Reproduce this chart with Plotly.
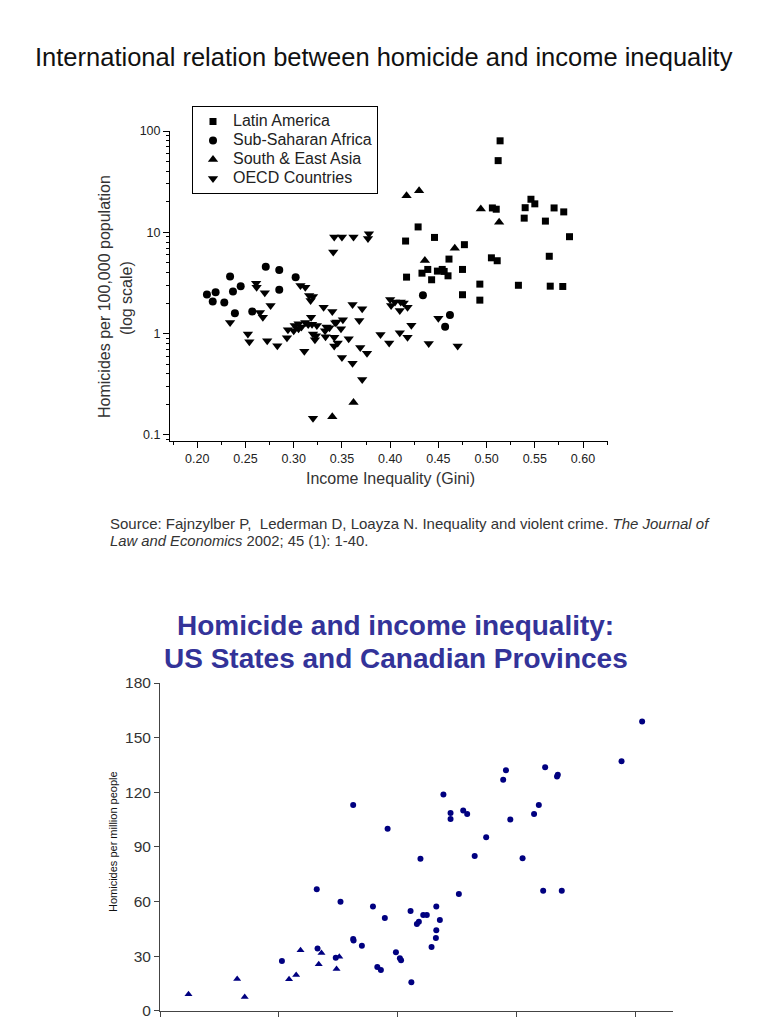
import plotly.graph_objects as go

W, H = 768, 1024
FONT = "Liberation Sans, Arial, sans-serif"

# ---------------- Top chart data (Gini vs homicides per 100,000, log) -------------
la_x = [0.514, 0.512, 0.506, 0.510, 0.540, 0.546, 0.550, 0.570, 0.580, 0.539, 0.561, 0.586,
        0.565, 0.505, 0.511, 0.533, 0.566, 0.579, 0.493, 0.493, 0.475, 0.475, 0.477, 0.461,
        0.460, 0.456, 0.449, 0.454, 0.443, 0.439, 0.433, 0.446, 0.429, 0.416, 0.417]
la_y = [80, 51, 17.4, 16.9, 17.5, 21.2, 19.1, 17.4, 15.9, 13.8, 12.9, 9.05,
        5.8, 5.6, 5.24, 3.0, 2.94, 2.92, 3.08, 2.14, 2.42, 4.3, 7.55, 5.44,
        3.72, 4.11, 4.14, 4.3, 3.4, 4.3, 3.95, 8.9, 11.3, 8.2, 3.61]

af_x = [0.210, 0.219, 0.216, 0.228, 0.234, 0.237, 0.245, 0.239, 0.257, 0.271, 0.285, 0.285,
        0.302, 0.434, 0.462, 0.457]
af_y = [2.43, 2.56, 2.07, 2.03, 3.66, 2.61, 2.94, 1.59, 1.65, 4.57, 4.24, 2.71,
        3.61, 2.39, 1.53, 1.17]

as_x = [0.417, 0.430, 0.494, 0.513, 0.467, 0.436, 0.362, 0.340]
as_y = [22.9, 25.7, 17.0, 12.6, 6.96, 5.28, 0.209, 0.151]

oecd_x = [0.342, 0.350, 0.362, 0.377, 0.378, 0.341,
          0.261, 0.2615, 0.270, 0.276, 0.265, 0.268, 0.234, 0.2525, 0.254, 0.2725, 0.283, 0.293, 0.294,
          0.307, 0.312, 0.316, 0.3175, 0.320, 0.318, 0.331, 0.340, 0.361, 0.371, 0.368, 0.351, 0.343,
          0.301, 0.305, 0.308, 0.312, 0.315, 0.319, 0.324, 0.305, 0.300, 0.320, 0.334, 0.3325, 0.337, 0.3445, 0.349,
          0.322, 0.323, 0.333, 0.342, 0.342, 0.3456, 0.357, 0.350, 0.361, 0.369, 0.376, 0.371, 0.311, 0.320,
          0.400, 0.401, 0.405, 0.411, 0.414, 0.410, 0.418, 0.422, 0.410, 0.418, 0.399, 0.390, 0.450, 0.440, 0.470]
oecd_y = [9.0, 9.0, 9.0, 8.7, 9.7, 6.38,
          3.15, 2.87, 2.53, 1.89, 1.62, 1.45, 1.29, 0.99, 0.83, 0.85, 0.76, 0.91, 1.09,
          2.98, 2.87, 2.38, 2.12, 2.32, 1.45, 1.82, 1.65, 1.94, 1.76, 1.35, 1.37, 1.28,
          1.2, 1.25, 1.16, 1.29, 1.23, 1.24, 1.2, 1.12, 1.07, 0.99, 1.16, 1.07, 1.14, 1.3, 1.12,
          0.87, 0.95, 0.93, 0.92, 0.755, 0.81, 0.89, 0.58, 0.51, 0.73, 0.64, 0.353, 0.67, 0.146,
          2.17, 1.89, 2.05, 2.05, 2.0, 1.69, 1.82, 1.21, 1.02, 0.92, 0.81, 0.98, 1.42, 0.80, 0.755]

top_names = ["Latin America", "Sub-Saharan Africa", "South & East Asia", "OECD Countries"]
top_xticks = [0.20, 0.25, 0.30, 0.35, 0.40, 0.45, 0.50, 0.55, 0.60]
top_yticks = [0.1, 1, 10, 100]
top_yticklabels = ["0.1", "1", "10", "100"]

# ---------------- Bottom chart data (US states / Canadian provinces) -------------
us_x = [0.4718, 0.4666, 0.4374, 0.4367, 0.4473, 0.4503, 0.4505, 0.4216, 0.4234, 0.4234,
        0.4266, 0.4276, 0.4075, 0.3988, 0.4457, 0.4445, 0.4385, 0.4324, 0.4295, 0.4158,
        0.4416, 0.4468, 0.4515, 0.4255, 0.4198, 0.4133, 0.4165, 0.4174, 0.4207, 0.4154,
        0.4149, 0.4198, 0.4197, 0.4186, 0.4068, 0.4096, 0.4106, 0.4109, 0.4058, 0.4135,
        0.3896, 0.3956, 0.4038, 0.3988, 0.3989, 0.4010, 0.3898, 0.3808, 0.3944, 0.4049]
us_y = [158.8, 137, 132.1, 126.8, 133.7, 128.6, 129.6, 118.7, 108.6, 105.3,
        109.9, 108.1, 100, 113, 113, 108.1, 105, 95.3, 85, 83.5,
        83.7, 65.9, 65.9, 64.1, 57.2, 54.8, 52.6, 52.6, 49.8, 48.9,
        47.6, 44.2, 40, 35, 50.9, 32.1, 28.8, 27.7, 22.4, 15.6,
        66.7, 59.9, 57.2, 39.4, 38.5, 35.7, 34.1, 27.3, 29.1, 24.0]

ca_x = [0.3572, 0.3695, 0.3714, 0.3826, 0.3844, 0.3855, 0.3901, 0.3908, 0.3946, 0.3953]
ca_y = [9.0, 17.4, 7.5, 17.3, 19.6, 33.2, 25.5, 31.7, 22.9, 29.7]

bot_xticks = [0.35, 0.38, 0.41, 0.44, 0.47]
bot_yticks = [0, 30, 60, 90, 120, 150, 180]


def px_x(p):
    return p / W


def px_y(p):
    return 1 - p / H


def big(name):
    return f'<span style="font-size:16px">{name}</span>'


fig = go.Figure()

mk = dict(color="black", line=dict(width=0))
fig.add_trace(go.Scatter(x=la_x, y=la_y, mode="markers", name=big(top_names[0]),
                         marker=dict(symbol="square", size=7, **mk), xaxis="x", yaxis="y"))
fig.add_trace(go.Scatter(x=af_x, y=af_y, mode="markers", name=big(top_names[1]),
                         marker=dict(symbol="circle", size=8, **mk), xaxis="x", yaxis="y"))
fig.add_trace(go.Scatter(x=as_x, y=as_y, mode="markers", name=big(top_names[2]),
                         marker=dict(symbol="triangle-up", size=9, **mk), xaxis="x", yaxis="y"))
fig.add_trace(go.Scatter(x=oecd_x, y=oecd_y, mode="markers", name=big(top_names[3]),
                         marker=dict(symbol="triangle-down", size=9, **mk), xaxis="x", yaxis="y"))

navy = "#000080"
fig.add_trace(go.Scatter(x=us_x, y=us_y, mode="markers", showlegend=False,
                         marker=dict(symbol="circle", size=6, color=navy, line=dict(width=0)),
                         xaxis="x2", yaxis="y2"))
fig.add_trace(go.Scatter(x=ca_x, y=ca_y, mode="markers", showlegend=False,
                         marker=dict(symbol="triangle-up", size=7, color=navy, line=dict(width=0)),
                         xaxis="x2", yaxis="y2"))

tickfont_top = dict(family=FONT, size=12.5, color="#222")
tickfont_bot = dict(family=FONT, size=15.5, color="#333")

fig.update_layout(
    width=W, height=H, margin=dict(l=0, r=0, t=0, b=0, autoexpand=False),
    paper_bgcolor="white", plot_bgcolor="white",
    font=dict(family=FONT),
    showlegend=True,
    legend=dict(x=px_x(192), y=px_y(106), xanchor="left", yanchor="top",
                bordercolor="black", borderwidth=1, bgcolor="white",
                font=dict(family=FONT, size=11.7, color="#222"), tracegroupgap=0),
    xaxis=dict(domain=[px_x(170), px_x(608)], range=[0.1717, 0.6259], automargin=False,
               tickvals=top_xticks, ticktext=[f"{v:.2f}" for v in top_xticks],
               ticks="outside", ticklen=6, tickcolor="black", showline=True, linecolor="black",
               linewidth=1, showgrid=False, zeroline=False, tickfont=tickfont_top,
               minor=dict(tick0=0.225, dtick=0.05, ticks="outside", ticklen=3, tickcolor="black", showgrid=False),
               anchor="y"),
    yaxis=dict(domain=[px_y(441), px_y(131)], type="log", range=[-1.06, 2.0], automargin=False,
               tickvals=top_yticks, ticktext=top_yticklabels,
               ticks="outside", ticklen=6, tickcolor="black", showline=True, linecolor="black",
               linewidth=1, showgrid=False, zeroline=False, tickfont=tickfont_top,
               minor=dict(dtick="D1", ticks="outside", ticklen=3, tickcolor="black", showgrid=False),
               anchor="x"),
    xaxis2=dict(domain=[px_x(160), px_x(673)], range=[0.35, 0.4796], automargin=False,
                tickvals=bot_xticks, ticktext=[f"{v:.2f}" for v in bot_xticks],
                ticks="outside", ticklen=5, tickcolor="#444", showline=True, linecolor="#444",
                linewidth=1, showgrid=False, zeroline=False, tickfont=tickfont_bot,
                anchor="y2"),
    yaxis2=dict(domain=[px_y(1010.7), px_y(683)], range=[0, 180], automargin=False,
                tickvals=bot_yticks, ticks="outside", ticklen=5, tickcolor="#444",
                showline=True, linecolor="#444", linewidth=1, showgrid=False, zeroline=False,
                tickfont=tickfont_bot, anchor="x2"),
)

ann = []


def add_text(text, x, y, size, color="#222", xanchor="center", angle=0):
    ann.append(dict(text=text, x=px_x(x), y=px_y(y), xref="paper", yref="paper",
                    xanchor=xanchor, yanchor="middle", showarrow=False, textangle=angle,
                    font=dict(family=FONT, size=size, color=color)))


add_text("International relation between homicide and income inequality", 384, 57, 25.5, "#111")
add_text("Homicides per 100,000 population", 104, 297, 16, "#333", angle=-90)
add_text("(log scale)", 126, 298, 16, "#333", angle=-90)
add_text("Income Inequality (Gini)", 390, 478, 16, "#333")
add_text("Source: Fajnzylber P,  Lederman D, Loayza N. Inequality and violent crime. <i>The Journal of</i>",
         108, 523, 15, "#333", xanchor="left")
add_text("<i>Law and Economics</i> 2002; 45 (1): 1-40.", 108, 541, 14.8, "#333", xanchor="left")
add_text("<b>Homicide and income inequality:</b>", 395, 625, 28, "#333399")
add_text("<b>US States and Canadian Provinces</b>", 396, 658, 28, "#333399")
add_text("Homicides per million people", 113, 842, 11, "#111", angle=-90)

fig.update_layout(annotations=ann)

fig.write_html("out.html", config={"displayModeBar": False},
               post_script="document.body.style.margin='0px';")
